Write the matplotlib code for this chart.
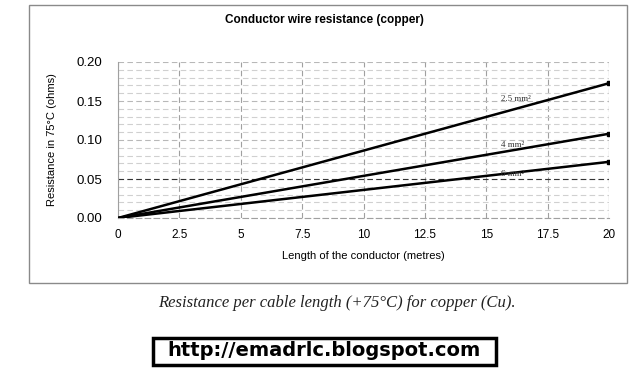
import matplotlib
matplotlib.use("Agg")
import matplotlib.pyplot as plt
from matplotlib.patches import Rectangle
from matplotlib.ticker import MultipleLocator

lengths = [0, 2.5, 5, 7.5, 10, 12.5, 15, 17.5, 20]
r_2_5 = [0, 0.0216, 0.0432, 0.0648, 0.0864, 0.108, 0.1296, 0.1512, 0.1728]
r_4 = [0, 0.0135, 0.027, 0.0405, 0.054, 0.0675, 0.081, 0.0945, 0.108]
r_6 = [0, 0.009, 0.018, 0.027, 0.036, 0.045, 0.054, 0.063, 0.072]
series_labels = ["2.5 mm²", "4 mm²", "6 mm²"]
label_pos = [(15.6, 0.153), (15.6, 0.094), (15.6, 0.056)]
xticks = [0, 2.5, 5, 7.5, 10, 12.5, 15, 17.5, 20]
xtick_labels = ["0", "2.5", "5", "7.5", "10", "12.5", "15", "17.5", "20"]
yticks = [0.0, 0.05, 0.10, 0.15, 0.20]
ytick_labels = ["0.00", "0.05", "0.10", "0.15", "0.20"]

plt.rcParams['font.family'] = ['Liberation Sans', 'DejaVu Sans']
fig = plt.figure(figsize=(6.4, 3.81), dpi=100)
fig.patch.set_facecolor('white')

# chart frame
fig.patches.append(Rectangle((29/640, 1-283/381), 598/640, 278/381,
                             transform=fig.transFigure, fill=False,
                             edgecolor='#8a8a8a', linewidth=1.0))

ax = fig.add_axes([118/640, 1-218/381, 491/640, 156/381])
ax.set_xlim(0, 20)
ax.set_ylim(0, 0.2)
ax.yaxis.set_minor_locator(MultipleLocator(0.01))
ax.grid(which='minor', axis='y', color='#d0d0d0', linestyle=(0, (5, 3)), linewidth=0.8)
ax.grid(which='major', axis='x', color='#a0a0a0', linestyle=(0, (5, 3)), linewidth=0.8)
ax.grid(which='major', axis='y', color='#b8b8b8', linestyle=(0, (5, 3)), linewidth=0.8)
ax.axhline(0.05, color='#333333', linestyle=(0, (5, 3)), linewidth=0.8, zorder=1)
ax.axvline(20, color='#a0a0a0', linestyle=(0, (5, 3)), linewidth=0.8, zorder=1)
ax.set_axisbelow(True)

for ys in (r_2_5, r_4, r_6):
    ax.plot(lengths, ys, color='black', linewidth=1.8, marker='s',
            markersize=3, markevery=[len(lengths)-1], zorder=3)

for lab, (lx, ly) in zip(series_labels, label_pos):
    ax.text(lx, ly, lab, fontsize=6.5, family=['Liberation Serif', 'DejaVu Serif'],
            color='#333333', ha='left', va='center', zorder=4)

ax.set_xticks(xticks)
ax.set_xticklabels(xtick_labels)
ax.set_yticks(yticks)
ax.set_yticklabels(ytick_labels)
ax.tick_params(axis='both', length=0, labelsize=8.5, pad=8)
ax.tick_params(axis='y', labelsize=9.5, pad=11)
ax.tick_params(which='minor', length=0)
for s in ['top', 'right']:
    ax.spines[s].set_visible(False)
ax.spines['left'].set_color('#a0a0a0')
ax.spines['bottom'].set_color('#a0a0a0')
ax.spines['bottom'].set_linestyle((0, (5, 3)))
ax.set_xlabel("Length of the conductor (metres)", fontsize=8, labelpad=7)
ax.set_ylabel("Resistance in 75°C (ohms)", fontsize=8, labelpad=14)

fig.text(324/640, 1-20/381, "Conductor wire resistance (copper)", ha='center',
         va='center', fontsize=8.5, fontweight='bold')

fig.text(337/640, 1-303/381, "Resistance per cable length (+75°C) for copper (Cu).",
         ha='center', va='center', fontsize=12, style='italic', color='#222222',
         family=['Liberation Serif', 'DejaVu Serif'])

fig.patches.append(Rectangle((153/640, 1-365/381), 343/640, 27/381,
                             transform=fig.transFigure, fill=False,
                             edgecolor='black', linewidth=2.5))
fig.text(324/640, 1-351/381, "http://emadrlc.blogspot.com", ha='center',
         va='center', fontsize=14, fontweight='heavy',
         family=['DejaVu Sans', 'Liberation Sans'])

fig.savefig("out.png", dpi=100)
